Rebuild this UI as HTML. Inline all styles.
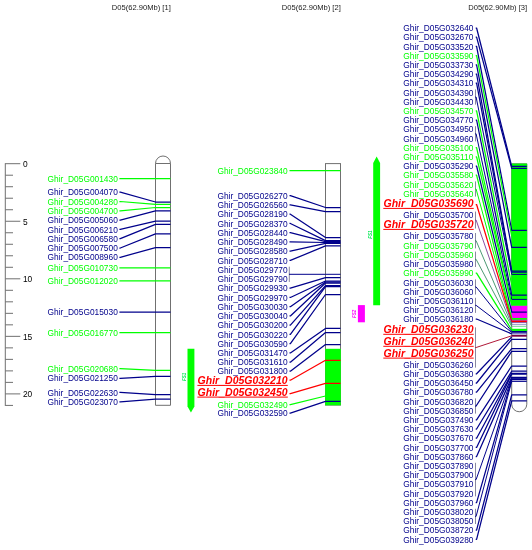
<!DOCTYPE html>
<html><head><meta charset="utf-8"><title>D05 map</title>
<style>
html,body{margin:0;padding:0;background:#fff}
svg{display:block}
text{font-family:"Liberation Sans",Arial,sans-serif}
.n{font-size:8.2px;text-anchor:end}
.r{font-size:10.0px;text-anchor:end;font-weight:bold;font-style:italic;fill:#ff0000}
.t{font-size:8px;fill:#1a1a1a}
.k{font-size:8.4px;fill:#000}
.q{font-size:4.5px;font-weight:bold;font-style:italic}
</style></head><body>
<svg width="532" height="550" viewBox="0 0 532 550">
<rect width="532" height="550" fill="#fff"/>
<text x="111.8" y="10.3" class="t" textLength="59" lengthAdjust="spacingAndGlyphs">D05(62.90Mb) [1]</text>
<text x="281.8" y="10.3" class="t" textLength="59" lengthAdjust="spacingAndGlyphs">D05(62.90Mb) [2]</text>
<text x="468.2" y="10.3" class="t" textLength="59" lengthAdjust="spacingAndGlyphs">D05(62.90Mb) [3]</text>
<line x1="5.3" y1="163.2" x2="5.3" y2="405.91" stroke="#707070" stroke-width="1"/>
<line x1="5.3" y1="163.70" x2="20.3" y2="163.70" stroke="#707070" stroke-width="1"/>
<text x="22.9" y="167.10" class="k">0</text>
<line x1="5.3" y1="175.21" x2="13" y2="175.21" stroke="#707070" stroke-width="1"/>
<line x1="5.3" y1="186.72" x2="13" y2="186.72" stroke="#707070" stroke-width="1"/>
<line x1="5.3" y1="198.23" x2="13" y2="198.23" stroke="#707070" stroke-width="1"/>
<line x1="5.3" y1="209.74" x2="13" y2="209.74" stroke="#707070" stroke-width="1"/>
<line x1="5.3" y1="221.25" x2="20.3" y2="221.25" stroke="#707070" stroke-width="1"/>
<text x="22.9" y="224.65" class="k">5</text>
<line x1="5.3" y1="232.76" x2="13" y2="232.76" stroke="#707070" stroke-width="1"/>
<line x1="5.3" y1="244.27" x2="13" y2="244.27" stroke="#707070" stroke-width="1"/>
<line x1="5.3" y1="255.78" x2="13" y2="255.78" stroke="#707070" stroke-width="1"/>
<line x1="5.3" y1="267.29" x2="13" y2="267.29" stroke="#707070" stroke-width="1"/>
<line x1="5.3" y1="278.80" x2="20.3" y2="278.80" stroke="#707070" stroke-width="1"/>
<text x="22.9" y="282.20" class="k">10</text>
<line x1="5.3" y1="290.31" x2="13" y2="290.31" stroke="#707070" stroke-width="1"/>
<line x1="5.3" y1="301.82" x2="13" y2="301.82" stroke="#707070" stroke-width="1"/>
<line x1="5.3" y1="313.33" x2="13" y2="313.33" stroke="#707070" stroke-width="1"/>
<line x1="5.3" y1="324.84" x2="13" y2="324.84" stroke="#707070" stroke-width="1"/>
<line x1="5.3" y1="336.35" x2="20.3" y2="336.35" stroke="#707070" stroke-width="1"/>
<text x="22.9" y="339.75" class="k">15</text>
<line x1="5.3" y1="347.86" x2="13" y2="347.86" stroke="#707070" stroke-width="1"/>
<line x1="5.3" y1="359.37" x2="13" y2="359.37" stroke="#707070" stroke-width="1"/>
<line x1="5.3" y1="370.88" x2="13" y2="370.88" stroke="#707070" stroke-width="1"/>
<line x1="5.3" y1="382.39" x2="13" y2="382.39" stroke="#707070" stroke-width="1"/>
<line x1="5.3" y1="393.90" x2="20.3" y2="393.90" stroke="#707070" stroke-width="1"/>
<text x="22.9" y="397.30" class="k">20</text>
<line x1="5.3" y1="405.41" x2="13" y2="405.41" stroke="#707070" stroke-width="1"/>
<path d="M155.5,405.3 V163.5 A7.5,7.5 0 0 1 170.5,163.5 V405.3 Z M155.5,163.5 H170.5" fill="none" stroke="#707070" stroke-width="1"/>
<text x="117.8" y="181.60" class="n" fill="#00ff00" textLength="70.2" lengthAdjust="spacingAndGlyphs">Ghir_D05G001430</text>
<polyline points="119.4,178.50 120.3,178.50 155.5,178.50 170.5,178.50" stroke="#00ff00" stroke-width="1.25" fill="none" stroke-linejoin="round"/>
<text x="117.8" y="195.30" class="n" fill="#00008b" textLength="70.2" lengthAdjust="spacingAndGlyphs">Ghir_D05G004070</text>
<polyline points="119.4,192.20 120.3,192.20 155.5,202.00 170.5,202.00" stroke="#00008b" stroke-width="1.25" fill="none" stroke-linejoin="round"/>
<text x="117.8" y="204.60" class="n" fill="#00ff00" textLength="70.2" lengthAdjust="spacingAndGlyphs">Ghir_D05G004280</text>
<polyline points="119.4,201.50 120.3,201.50 155.5,204.30 170.5,204.30" stroke="#00ff00" stroke-width="1.25" fill="none" stroke-linejoin="round"/>
<text x="117.8" y="213.90" class="n" fill="#00ff00" textLength="70.2" lengthAdjust="spacingAndGlyphs">Ghir_D05G004700</text>
<polyline points="119.4,210.80 120.3,210.80 155.5,207.50 170.5,207.50" stroke="#00ff00" stroke-width="1.25" fill="none" stroke-linejoin="round"/>
<text x="117.8" y="223.20" class="n" fill="#00008b" textLength="70.2" lengthAdjust="spacingAndGlyphs">Ghir_D05G005060</text>
<polyline points="119.4,220.10 120.3,220.10 155.5,210.80 170.5,210.80" stroke="#00008b" stroke-width="1.25" fill="none" stroke-linejoin="round"/>
<text x="117.8" y="232.50" class="n" fill="#00008b" textLength="70.2" lengthAdjust="spacingAndGlyphs">Ghir_D05G006210</text>
<polyline points="119.4,229.40 120.3,229.40 155.5,221.05 170.5,221.05" stroke="#00008b" stroke-width="1.25" fill="none" stroke-linejoin="round"/>
<text x="117.8" y="241.80" class="n" fill="#00008b" textLength="70.2" lengthAdjust="spacingAndGlyphs">Ghir_D05G006580</text>
<polyline points="119.4,238.70 120.3,238.70 155.5,224.30 170.5,224.30" stroke="#00008b" stroke-width="1.25" fill="none" stroke-linejoin="round"/>
<text x="117.8" y="251.10" class="n" fill="#00008b" textLength="70.2" lengthAdjust="spacingAndGlyphs">Ghir_D05G007500</text>
<polyline points="119.4,248.00 120.3,248.00 155.5,233.90 170.5,233.90" stroke="#00008b" stroke-width="1.25" fill="none" stroke-linejoin="round"/>
<text x="117.8" y="260.40" class="n" fill="#00008b" textLength="70.2" lengthAdjust="spacingAndGlyphs">Ghir_D05G008960</text>
<polyline points="119.4,257.30 120.3,257.30 155.5,247.60 170.5,247.60" stroke="#00008b" stroke-width="1.25" fill="none" stroke-linejoin="round"/>
<text x="117.8" y="270.90" class="n" fill="#00ff00" textLength="70.2" lengthAdjust="spacingAndGlyphs">Ghir_D05G010730</text>
<polyline points="119.4,267.80 120.3,267.80 155.5,267.80 170.5,267.80" stroke="#00ff00" stroke-width="1.25" fill="none" stroke-linejoin="round"/>
<text x="117.8" y="283.90" class="n" fill="#00ff00" textLength="70.2" lengthAdjust="spacingAndGlyphs">Ghir_D05G012020</text>
<polyline points="119.4,280.80 120.3,280.80 155.5,280.80 170.5,280.80" stroke="#00ff00" stroke-width="1.25" fill="none" stroke-linejoin="round"/>
<text x="117.8" y="315.20" class="n" fill="#00008b" textLength="70.2" lengthAdjust="spacingAndGlyphs">Ghir_D05G015030</text>
<polyline points="119.4,312.10 120.3,312.10 155.5,312.10 170.5,312.10" stroke="#00008b" stroke-width="1.25" fill="none" stroke-linejoin="round"/>
<text x="117.8" y="335.60" class="n" fill="#00ff00" textLength="70.2" lengthAdjust="spacingAndGlyphs">Ghir_D05G016770</text>
<polyline points="119.4,332.50 120.3,332.50 155.5,332.50 170.5,332.50" stroke="#00ff00" stroke-width="1.25" fill="none" stroke-linejoin="round"/>
<text x="117.8" y="371.80" class="n" fill="#00ff00" textLength="70.2" lengthAdjust="spacingAndGlyphs">Ghir_D05G020680</text>
<polyline points="119.4,368.70 120.3,368.70 155.5,370.40 170.5,370.40" stroke="#00ff00" stroke-width="1.25" fill="none" stroke-linejoin="round"/>
<text x="117.8" y="381.40" class="n" fill="#00008b" textLength="70.2" lengthAdjust="spacingAndGlyphs">Ghir_D05G021250</text>
<polyline points="119.4,378.30 120.3,378.30 155.5,376.30 170.5,376.30" stroke="#00008b" stroke-width="1.25" fill="none" stroke-linejoin="round"/>
<text x="117.8" y="395.50" class="n" fill="#00008b" textLength="70.2" lengthAdjust="spacingAndGlyphs">Ghir_D05G022630</text>
<polyline points="119.4,392.40 120.3,392.40 155.5,394.70 170.5,394.70" stroke="#00008b" stroke-width="1.25" fill="none" stroke-linejoin="round"/>
<text x="117.8" y="404.90" class="n" fill="#00008b" textLength="70.2" lengthAdjust="spacingAndGlyphs">Ghir_D05G023070</text>
<polyline points="119.4,401.80 120.3,401.80 155.5,399.20 170.5,399.20" stroke="#00008b" stroke-width="1.25" fill="none" stroke-linejoin="round"/>
<path d="M187.5,348.7 H194.4 V406.5 L190.95,412.4 L187.5,406.5 Z" fill="#00ff00"/>
<text transform="translate(185.9,380.9) rotate(-90)" class="q" fill="#00e850">FS1</text>
<rect x="325.5" y="163.6" width="15" height="241.5" fill="none" stroke="#707070" stroke-width="1"/>
<rect x="325.2" y="348.8" width="15.6" height="56.5" fill="#00ff00"/>
<text x="287.6" y="173.80" class="n" fill="#00ff00" textLength="70.2" lengthAdjust="spacingAndGlyphs">Ghir_D05G023840</text>
<polyline points="289.5,170.70 290.4,170.70 325.5,170.70 340.5,170.70" stroke="#00ff00" stroke-width="1.25" fill="none" stroke-linejoin="round"/>
<text x="287.6" y="198.80" class="n" fill="#00008b" textLength="70.2" lengthAdjust="spacingAndGlyphs">Ghir_D05G026270</text>
<polyline points="289.5,195.70 290.4,195.70 325.5,207.50 340.5,207.50" stroke="#00008b" stroke-width="1.25" fill="none" stroke-linejoin="round"/>
<text x="287.6" y="208.05" class="n" fill="#00008b" textLength="70.2" lengthAdjust="spacingAndGlyphs">Ghir_D05G026560</text>
<polyline points="289.5,204.95 290.4,204.95 325.5,211.70 340.5,211.70" stroke="#00008b" stroke-width="1.25" fill="none" stroke-linejoin="round"/>
<text x="287.6" y="217.30" class="n" fill="#00008b" textLength="70.2" lengthAdjust="spacingAndGlyphs">Ghir_D05G028190</text>
<polyline points="289.5,214.20 290.4,214.20 325.5,237.50 340.5,237.50" stroke="#00008b" stroke-width="1.25" fill="none" stroke-linejoin="round"/>
<text x="287.6" y="226.55" class="n" fill="#00008b" textLength="70.2" lengthAdjust="spacingAndGlyphs">Ghir_D05G028370</text>
<polyline points="289.5,223.45 290.4,223.45 325.5,240.60 340.5,240.60" stroke="#00008b" stroke-width="1.25" fill="none" stroke-linejoin="round"/>
<text x="287.6" y="235.80" class="n" fill="#00008b" textLength="70.2" lengthAdjust="spacingAndGlyphs">Ghir_D05G028440</text>
<polyline points="289.5,232.70 290.4,232.70 325.5,241.60 340.5,241.60" stroke="#00008b" stroke-width="1.25" fill="none" stroke-linejoin="round"/>
<text x="287.6" y="245.05" class="n" fill="#00008b" textLength="70.2" lengthAdjust="spacingAndGlyphs">Ghir_D05G028490</text>
<polyline points="289.5,241.95 290.4,241.95 325.5,242.50 340.5,242.50" stroke="#00008b" stroke-width="1.25" fill="none" stroke-linejoin="round"/>
<text x="287.6" y="254.30" class="n" fill="#00008b" textLength="70.2" lengthAdjust="spacingAndGlyphs">Ghir_D05G028580</text>
<polyline points="289.5,251.20 290.4,251.20 325.5,243.40 340.5,243.40" stroke="#00008b" stroke-width="1.25" fill="none" stroke-linejoin="round"/>
<text x="287.6" y="263.55" class="n" fill="#00008b" textLength="70.2" lengthAdjust="spacingAndGlyphs">Ghir_D05G028710</text>
<polyline points="289.5,260.45 290.4,260.45 325.5,245.90 340.5,245.90" stroke="#00008b" stroke-width="1.25" fill="none" stroke-linejoin="round"/>
<text x="287.6" y="272.80" class="n" fill="#00008b" textLength="70.2" lengthAdjust="spacingAndGlyphs">Ghir_D05G029770</text>
<text x="287.6" y="282.05" class="n" fill="#00008b" textLength="70.2" lengthAdjust="spacingAndGlyphs">Ghir_D05G029790</text>
<line x1="289.3" y1="266.70" x2="289.3" y2="281.95" stroke="#555577" stroke-width="0.7"/>
<polyline points="289.0,274.30 289.9,274.30 325.5,274.30 340.5,274.30" stroke="#00008b" stroke-width="1.0" fill="none" stroke-linejoin="round"/>
<text x="287.6" y="291.30" class="n" fill="#00008b" textLength="70.2" lengthAdjust="spacingAndGlyphs">Ghir_D05G029930</text>
<polyline points="289.5,288.20 290.4,288.20 325.5,277.60 340.5,277.60" stroke="#00008b" stroke-width="1.25" fill="none" stroke-linejoin="round"/>
<text x="287.6" y="300.55" class="n" fill="#00008b" textLength="70.2" lengthAdjust="spacingAndGlyphs">Ghir_D05G029970</text>
<polyline points="289.5,297.45 290.4,297.45 325.5,281.00 340.5,281.00" stroke="#00008b" stroke-width="1.25" fill="none" stroke-linejoin="round"/>
<text x="287.6" y="309.80" class="n" fill="#00008b" textLength="70.2" lengthAdjust="spacingAndGlyphs">Ghir_D05G030030</text>
<polyline points="289.5,306.70 290.4,306.70 325.5,282.00 340.5,282.00" stroke="#00008b" stroke-width="1.25" fill="none" stroke-linejoin="round"/>
<text x="287.6" y="319.05" class="n" fill="#00008b" textLength="70.2" lengthAdjust="spacingAndGlyphs">Ghir_D05G030040</text>
<polyline points="289.5,315.95 290.4,315.95 325.5,283.00 340.5,283.00" stroke="#00008b" stroke-width="1.25" fill="none" stroke-linejoin="round"/>
<text x="287.6" y="328.30" class="n" fill="#00008b" textLength="70.2" lengthAdjust="spacingAndGlyphs">Ghir_D05G030200</text>
<polyline points="289.5,325.20 290.4,325.20 325.5,285.70 340.5,285.70" stroke="#00008b" stroke-width="1.25" fill="none" stroke-linejoin="round"/>
<text x="287.6" y="337.55" class="n" fill="#00008b" textLength="70.2" lengthAdjust="spacingAndGlyphs">Ghir_D05G030220</text>
<polyline points="289.5,334.45 290.4,334.45 325.5,286.60 340.5,286.60" stroke="#00008b" stroke-width="1.25" fill="none" stroke-linejoin="round"/>
<text x="287.6" y="346.80" class="n" fill="#00008b" textLength="70.2" lengthAdjust="spacingAndGlyphs">Ghir_D05G030590</text>
<polyline points="289.5,343.70 290.4,343.70 325.5,294.50 340.5,294.50" stroke="#00008b" stroke-width="1.25" fill="none" stroke-linejoin="round"/>
<text x="287.6" y="356.05" class="n" fill="#00008b" textLength="70.2" lengthAdjust="spacingAndGlyphs">Ghir_D05G031470</text>
<polyline points="289.5,352.95 290.4,352.95 325.5,328.40 340.5,328.40" stroke="#00008b" stroke-width="1.25" fill="none" stroke-linejoin="round"/>
<text x="287.6" y="365.30" class="n" fill="#00008b" textLength="70.2" lengthAdjust="spacingAndGlyphs">Ghir_D05G031610</text>
<polyline points="289.5,362.20 290.4,362.20 325.5,332.60 340.5,332.60" stroke="#00008b" stroke-width="1.25" fill="none" stroke-linejoin="round"/>
<text x="287.6" y="374.30" class="n" fill="#00008b" textLength="70.2" lengthAdjust="spacingAndGlyphs">Ghir_D05G031800</text>
<polyline points="289.5,371.20 290.4,371.20 325.5,344.50 340.5,344.50" stroke="#00008b" stroke-width="1.25" fill="none" stroke-linejoin="round"/>
<text x="287.6" y="384.30" class="r" textLength="90" lengthAdjust="spacingAndGlyphs">Ghir_D05G032210</text>
<line x1="197.4" y1="385.40" x2="287.8" y2="385.40" stroke="#ff0000" stroke-width="1"/>
<polyline points="289.5,380.20 290.4,380.20 325.5,360.30 340.5,360.30" stroke="#ff0000" stroke-width="1.25" fill="none" stroke-linejoin="round"/>
<text x="287.6" y="396.00" class="r" textLength="90" lengthAdjust="spacingAndGlyphs">Ghir_D05G032450</text>
<line x1="197.4" y1="397.10" x2="287.8" y2="397.10" stroke="#ff0000" stroke-width="1"/>
<polyline points="289.5,393.70 290.4,393.70 325.5,383.30 340.5,383.30" stroke="#ff0000" stroke-width="1.25" fill="none" stroke-linejoin="round"/>
<text x="287.6" y="407.80" class="n" fill="#00ff00" textLength="70.2" lengthAdjust="spacingAndGlyphs">Ghir_D05G032490</text>
<polyline points="289.5,404.70 290.4,404.70 325.5,396.00 340.5,396.00" stroke="#00ff00" stroke-width="1.25" fill="none" stroke-linejoin="round"/>
<text x="287.6" y="416.30" class="n" fill="#00008b" textLength="70.2" lengthAdjust="spacingAndGlyphs">Ghir_D05G032590</text>
<polyline points="289.5,413.20 290.4,413.20 325.5,401.40 340.5,401.40" stroke="#00008b" stroke-width="1.25" fill="none" stroke-linejoin="round"/>
<path d="M373.2,305.3 V163 L376.65,156.4 L380.1,163 V305.3 Z" fill="#00ff00"/>
<text transform="translate(371.7,238.8) rotate(-90)" class="q" fill="#00e850">FS1</text>
<rect x="357.9" y="305.1" width="7" height="17.2" fill="#ff00ff"/>
<text transform="translate(355.9,317.9) rotate(-90)" class="q" fill="#ff00ff">FS2</text>
<path d="M511.7,163.8 H526.8 V404.2 A7.549999999999983,7.549999999999983 0 0 1 511.7,404.2 Z" fill="none" stroke="#707070" stroke-width="1"/>
<rect x="511.4" y="163.6" width="15.699999999999966" height="141.7" fill="#00ff00"/>
<rect x="511.4" y="305.3" width="15.699999999999966" height="16.5" fill="#ff00ff"/>
<rect x="511.4" y="328.8" width="15.699999999999966" height="2.1" fill="#00ff00"/>
<text x="473.5" y="31.10" class="n" fill="#00008b" textLength="70.2" lengthAdjust="spacingAndGlyphs">Ghir_D05G032640</text>
<text x="473.5" y="40.30" class="n" fill="#00008b" textLength="70.2" lengthAdjust="spacingAndGlyphs">Ghir_D05G032670</text>
<text x="473.5" y="49.50" class="n" fill="#00008b" textLength="70.2" lengthAdjust="spacingAndGlyphs">Ghir_D05G033520</text>
<text x="473.5" y="58.70" class="n" fill="#00ff00" textLength="70.2" lengthAdjust="spacingAndGlyphs">Ghir_D05G033590</text>
<text x="473.5" y="67.90" class="n" fill="#00008b" textLength="70.2" lengthAdjust="spacingAndGlyphs">Ghir_D05G033730</text>
<text x="473.5" y="77.10" class="n" fill="#00008b" textLength="70.2" lengthAdjust="spacingAndGlyphs">Ghir_D05G034290</text>
<text x="473.5" y="86.30" class="n" fill="#00008b" textLength="70.2" lengthAdjust="spacingAndGlyphs">Ghir_D05G034310</text>
<text x="473.5" y="95.50" class="n" fill="#00008b" textLength="70.2" lengthAdjust="spacingAndGlyphs">Ghir_D05G034390</text>
<text x="473.5" y="104.70" class="n" fill="#00008b" textLength="70.2" lengthAdjust="spacingAndGlyphs">Ghir_D05G034430</text>
<text x="473.5" y="113.90" class="n" fill="#00ff00" textLength="70.2" lengthAdjust="spacingAndGlyphs">Ghir_D05G034570</text>
<text x="473.5" y="123.10" class="n" fill="#00008b" textLength="70.2" lengthAdjust="spacingAndGlyphs">Ghir_D05G034770</text>
<text x="473.5" y="132.30" class="n" fill="#00008b" textLength="70.2" lengthAdjust="spacingAndGlyphs">Ghir_D05G034950</text>
<text x="473.5" y="141.50" class="n" fill="#00008b" textLength="70.2" lengthAdjust="spacingAndGlyphs">Ghir_D05G034960</text>
<text x="473.5" y="150.70" class="n" fill="#00ff00" textLength="70.2" lengthAdjust="spacingAndGlyphs">Ghir_D05G035100</text>
<text x="473.5" y="159.90" class="n" fill="#00ff00" textLength="70.2" lengthAdjust="spacingAndGlyphs">Ghir_D05G035110</text>
<text x="473.5" y="169.10" class="n" fill="#00008b" textLength="70.2" lengthAdjust="spacingAndGlyphs">Ghir_D05G035290</text>
<text x="473.5" y="178.30" class="n" fill="#00ff00" textLength="70.2" lengthAdjust="spacingAndGlyphs">Ghir_D05G035580</text>
<text x="473.5" y="187.50" class="n" fill="#00ff00" textLength="70.2" lengthAdjust="spacingAndGlyphs">Ghir_D05G035620</text>
<text x="473.5" y="196.70" class="n" fill="#00ff00" textLength="70.2" lengthAdjust="spacingAndGlyphs">Ghir_D05G035640</text>
<text x="473.5" y="207.30" class="r" textLength="90" lengthAdjust="spacingAndGlyphs">Ghir_D05G035690</text>
<line x1="383.3" y1="208.40" x2="473.7" y2="208.40" stroke="#ff0000" stroke-width="1"/>
<text x="473.5" y="217.70" class="n" fill="#00008b" textLength="70.2" lengthAdjust="spacingAndGlyphs">Ghir_D05G035700</text>
<text x="473.5" y="228.30" class="r" textLength="90" lengthAdjust="spacingAndGlyphs">Ghir_D05G035720</text>
<line x1="383.3" y1="229.40" x2="473.7" y2="229.40" stroke="#ff0000" stroke-width="1"/>
<text x="473.5" y="239.10" class="n" fill="#00008b" textLength="70.2" lengthAdjust="spacingAndGlyphs">Ghir_D05G035780</text>
<text x="473.5" y="248.50" class="n" fill="#00ff00" textLength="70.2" lengthAdjust="spacingAndGlyphs">Ghir_D05G035790</text>
<text x="473.5" y="257.70" class="n" fill="#00ff00" textLength="70.2" lengthAdjust="spacingAndGlyphs">Ghir_D05G035960</text>
<text x="473.5" y="267.10" class="n" fill="#00008b" textLength="70.2" lengthAdjust="spacingAndGlyphs">Ghir_D05G035980</text>
<text x="473.5" y="276.30" class="n" fill="#00ff00" textLength="70.2" lengthAdjust="spacingAndGlyphs">Ghir_D05G035990</text>
<text x="473.5" y="285.50" class="n" fill="#00008b" textLength="70.2" lengthAdjust="spacingAndGlyphs">Ghir_D05G036030</text>
<text x="473.5" y="294.60" class="n" fill="#00008b" textLength="70.2" lengthAdjust="spacingAndGlyphs">Ghir_D05G036060</text>
<text x="473.5" y="303.90" class="n" fill="#00008b" textLength="70.2" lengthAdjust="spacingAndGlyphs">Ghir_D05G036110</text>
<text x="473.5" y="313.00" class="n" fill="#00008b" textLength="70.2" lengthAdjust="spacingAndGlyphs">Ghir_D05G036120</text>
<text x="473.5" y="322.10" class="n" fill="#00008b" textLength="70.2" lengthAdjust="spacingAndGlyphs">Ghir_D05G036180</text>
<text x="473.5" y="333.20" class="r" textLength="90" lengthAdjust="spacingAndGlyphs">Ghir_D05G036230</text>
<line x1="383.3" y1="334.30" x2="473.7" y2="334.30" stroke="#ff0000" stroke-width="1"/>
<text x="473.5" y="345.20" class="r" textLength="90" lengthAdjust="spacingAndGlyphs">Ghir_D05G036240</text>
<line x1="383.3" y1="346.30" x2="473.7" y2="346.30" stroke="#ff0000" stroke-width="1"/>
<text x="473.5" y="357.00" class="r" textLength="90" lengthAdjust="spacingAndGlyphs">Ghir_D05G036250</text>
<line x1="383.3" y1="358.10" x2="473.7" y2="358.10" stroke="#ff0000" stroke-width="1"/>
<text x="473.5" y="367.70" class="n" fill="#00008b" textLength="70.2" lengthAdjust="spacingAndGlyphs">Ghir_D05G036260</text>
<text x="473.5" y="376.90" class="n" fill="#00008b" textLength="70.2" lengthAdjust="spacingAndGlyphs">Ghir_D05G036380</text>
<text x="473.5" y="386.10" class="n" fill="#00008b" textLength="70.2" lengthAdjust="spacingAndGlyphs">Ghir_D05G036450</text>
<text x="473.5" y="395.30" class="n" fill="#00008b" textLength="70.2" lengthAdjust="spacingAndGlyphs">Ghir_D05G036780</text>
<text x="473.5" y="404.50" class="n" fill="#00008b" textLength="70.2" lengthAdjust="spacingAndGlyphs">Ghir_D05G036820</text>
<text x="473.5" y="413.70" class="n" fill="#00008b" textLength="70.2" lengthAdjust="spacingAndGlyphs">Ghir_D05G036850</text>
<text x="473.5" y="422.90" class="n" fill="#00008b" textLength="70.2" lengthAdjust="spacingAndGlyphs">Ghir_D05G037490</text>
<text x="473.5" y="432.10" class="n" fill="#00008b" textLength="70.2" lengthAdjust="spacingAndGlyphs">Ghir_D05G037630</text>
<text x="473.5" y="441.30" class="n" fill="#00008b" textLength="70.2" lengthAdjust="spacingAndGlyphs">Ghir_D05G037670</text>
<text x="473.5" y="450.50" class="n" fill="#00008b" textLength="70.2" lengthAdjust="spacingAndGlyphs">Ghir_D05G037700</text>
<text x="473.5" y="459.70" class="n" fill="#00008b" textLength="70.2" lengthAdjust="spacingAndGlyphs">Ghir_D05G037860</text>
<text x="473.5" y="468.90" class="n" fill="#00008b" textLength="70.2" lengthAdjust="spacingAndGlyphs">Ghir_D05G037890</text>
<text x="473.5" y="478.10" class="n" fill="#00008b" textLength="70.2" lengthAdjust="spacingAndGlyphs">Ghir_D05G037900</text>
<text x="473.5" y="487.30" class="n" fill="#00008b" textLength="70.2" lengthAdjust="spacingAndGlyphs">Ghir_D05G037910</text>
<text x="473.5" y="496.50" class="n" fill="#00008b" textLength="70.2" lengthAdjust="spacingAndGlyphs">Ghir_D05G037920</text>
<text x="473.5" y="505.70" class="n" fill="#00008b" textLength="70.2" lengthAdjust="spacingAndGlyphs">Ghir_D05G037960</text>
<text x="473.5" y="514.90" class="n" fill="#00008b" textLength="70.2" lengthAdjust="spacingAndGlyphs">Ghir_D05G038020</text>
<text x="473.5" y="524.10" class="n" fill="#00008b" textLength="70.2" lengthAdjust="spacingAndGlyphs">Ghir_D05G038050</text>
<text x="473.5" y="533.30" class="n" fill="#00008b" textLength="70.2" lengthAdjust="spacingAndGlyphs">Ghir_D05G038720</text>
<text x="473.5" y="542.50" class="n" fill="#00008b" textLength="70.2" lengthAdjust="spacingAndGlyphs">Ghir_D05G039280</text>
<polyline points="475.7,28.00 476.6,28.00 511.7,166.30 526.8,166.30" stroke="#00008b" stroke-width="1.25" fill="none" stroke-linejoin="round"/>
<polyline points="475.7,37.20 476.6,37.20 511.7,168.40 526.8,168.40" stroke="#00008b" stroke-width="1.25" fill="none" stroke-linejoin="round"/>
<polyline points="475.7,46.40 476.6,46.40 511.7,230.30 526.8,230.30" stroke="#00008b" stroke-width="1.25" fill="none" stroke-linejoin="round"/>
<polyline points="475.7,55.60 476.6,55.60 511.7,236.00 526.8,236.00" stroke="#00ff00" stroke-width="1.25" fill="none" stroke-linejoin="round"/>
<polyline points="475.7,64.80 476.6,64.80 511.7,247.40 526.8,247.40" stroke="#00008b" stroke-width="1.25" fill="none" stroke-linejoin="round"/>
<polyline points="475.7,74.00 476.6,74.00 511.7,271.00 526.8,271.00" stroke="#00008b" stroke-width="1.25" fill="none" stroke-linejoin="round"/>
<polyline points="475.7,83.20 476.6,83.20 511.7,272.00 526.8,272.00" stroke="#00008b" stroke-width="1.25" fill="none" stroke-linejoin="round"/>
<line x1="475.5" y1="89.40" x2="475.5" y2="104.60" stroke="#555577" stroke-width="0.7"/>
<polyline points="475.2,97.00 476.1,97.00 511.7,274.40 526.8,274.40" stroke="#00008b" stroke-width="1.0" fill="none" stroke-linejoin="round"/>
<polyline points="475.7,110.80 476.6,110.80 511.7,285.00 526.8,285.00" stroke="#00ff00" stroke-width="1.25" fill="none" stroke-linejoin="round"/>
<polyline points="475.7,120.00 476.6,120.00 511.7,295.00 526.8,295.00" stroke="#00008b" stroke-width="1.25" fill="none" stroke-linejoin="round"/>
<line x1="475.5" y1="126.20" x2="475.5" y2="141.40" stroke="#555577" stroke-width="0.7"/>
<polyline points="475.2,133.80 476.1,133.80 511.7,299.40 526.8,299.40" stroke="#00008b" stroke-width="1.0" fill="none" stroke-linejoin="round"/>
<polyline points="475.7,147.60 476.6,147.60 511.7,304.00 526.8,304.00" stroke="#00ff00" stroke-width="1.25" fill="none" stroke-linejoin="round"/>
<polyline points="475.7,156.80 476.6,156.80 511.7,305.00 526.8,305.00" stroke="#00ff00" stroke-width="1.25" fill="none" stroke-linejoin="round"/>
<polyline points="475.7,166.00 476.6,166.00 511.7,312.00 526.8,312.00" stroke="#00008b" stroke-width="1.25" fill="none" stroke-linejoin="round"/>
<polyline points="475.7,175.20 476.6,175.20 511.7,318.60 526.8,318.60" stroke="#00ff00" stroke-width="1.25" fill="none" stroke-linejoin="round"/>
<line x1="475.5" y1="181.40" x2="475.5" y2="196.60" stroke="#555577" stroke-width="0.7"/>
<polyline points="475.2,189.00 476.1,189.00 511.7,319.80 526.8,319.80" stroke="#00ff00" stroke-width="1.0" fill="none" stroke-linejoin="round"/>
<polyline points="475.7,204.50 476.6,204.50 511.7,321.40 526.8,321.40" stroke="#ff0000" stroke-width="1.25" fill="none" stroke-linejoin="round"/>
<line x1="475.5" y1="211.60" x2="475.5" y2="228.50" stroke="#555577" stroke-width="0.7"/>
<polyline points="475.2,220.05 476.1,220.05 511.7,322.60 526.8,322.60" stroke="#70208a" stroke-width="0.8" fill="none" stroke-linejoin="round"/>
<line x1="475.5" y1="233.00" x2="475.5" y2="248.40" stroke="#555577" stroke-width="0.7"/>
<polyline points="475.2,240.70 476.1,240.70 511.7,324.60" stroke="#208050" stroke-width="0.8" fill="none" stroke-linejoin="round"/>
<line x1="511.7" y1="324.60" x2="526.8" y2="324.60" stroke="#8080c0" stroke-width="0.8"/>
<line x1="475.5" y1="251.60" x2="475.5" y2="267.00" stroke="#555577" stroke-width="0.7"/>
<polyline points="475.2,259.30 476.1,259.30 511.7,326.40" stroke="#208050" stroke-width="0.8" fill="none" stroke-linejoin="round"/>
<line x1="511.7" y1="326.40" x2="526.8" y2="326.40" stroke="#60d080" stroke-width="0.8"/>
<polyline points="475.7,273.20 476.6,273.20 511.7,329.80 526.8,329.80" stroke="#00ff00" stroke-width="1.25" fill="none" stroke-linejoin="round"/>
<line x1="475.5" y1="279.40" x2="475.5" y2="294.50" stroke="#555577" stroke-width="0.7"/>
<polyline points="475.2,286.95 476.1,286.95 511.7,331.50 526.8,331.50" stroke="#00008b" stroke-width="1.0" fill="none" stroke-linejoin="round"/>
<line x1="475.5" y1="297.80" x2="475.5" y2="312.90" stroke="#555577" stroke-width="0.7"/>
<polyline points="475.2,305.35 476.1,305.35 511.7,332.30 526.8,332.30" stroke="#00008b" stroke-width="1.0" fill="none" stroke-linejoin="round"/>
<polyline points="475.7,319.00 476.6,319.00 511.7,333.80" stroke="#00008b" stroke-width="1.25" fill="none" stroke-linejoin="round"/>
<line x1="511.7" y1="333.80" x2="526.8" y2="333.80" stroke="#00008b" stroke-width="0.7"/>
<line x1="475.5" y1="327.40" x2="475.5" y2="367.60" stroke="#555577" stroke-width="0.7"/>
<polyline points="475.2,347.50 476.1,347.50 511.7,335.80" stroke="#b01838" stroke-width="1.0" fill="none" stroke-linejoin="round"/>
<line x1="511.7" y1="335.80" x2="526.8" y2="335.80" stroke="#780048" stroke-width="1.8"/>
<polyline points="475.7,373.80 476.6,373.80 511.7,336.90" stroke="#00008b" stroke-width="1.25" fill="none" stroke-linejoin="round"/>
<line x1="511.7" y1="336.90" x2="526.8" y2="336.90" stroke="#00008b" stroke-width="0.01"/>
<polyline points="475.7,383.00 476.6,383.00 511.7,339.40 526.8,339.40" stroke="#00008b" stroke-width="1.25" fill="none" stroke-linejoin="round"/>
<polyline points="475.7,392.20 476.6,392.20 511.7,348.60 526.8,348.60" stroke="#00008b" stroke-width="1.25" fill="none" stroke-linejoin="round"/>
<line x1="475.5" y1="398.40" x2="475.5" y2="413.60" stroke="#555577" stroke-width="0.7"/>
<polyline points="475.2,406.00 476.1,406.00 511.7,351.40 526.8,351.40" stroke="#00008b" stroke-width="1.25" fill="none" stroke-linejoin="round"/>
<polyline points="475.7,419.80 476.6,419.80 511.7,366.00 526.8,366.00" stroke="#00008b" stroke-width="1.25" fill="none" stroke-linejoin="round"/>
<polyline points="475.7,429.00 476.6,429.00 511.7,371.20 526.8,371.20" stroke="#00008b" stroke-width="1.25" fill="none" stroke-linejoin="round"/>
<polyline points="475.7,438.20 476.6,438.20 511.7,373.30 526.8,373.30" stroke="#00008b" stroke-width="1.25" fill="none" stroke-linejoin="round"/>
<polyline points="475.7,447.40 476.6,447.40 511.7,374.20 526.8,374.20" stroke="#00008b" stroke-width="1.25" fill="none" stroke-linejoin="round"/>
<polyline points="475.7,456.60 476.6,456.60 511.7,377.30 526.8,377.30" stroke="#00008b" stroke-width="1.25" fill="none" stroke-linejoin="round"/>
<line x1="475.5" y1="462.80" x2="475.5" y2="496.40" stroke="#555577" stroke-width="0.7"/>
<polyline points="475.2,479.60 476.1,479.60 511.7,378.40 526.8,378.40" stroke="#00008b" stroke-width="1.0" fill="none" stroke-linejoin="round"/>
<polyline points="475.7,502.60 476.6,502.60 511.7,379.50 526.8,379.50" stroke="#00008b" stroke-width="1.25" fill="none" stroke-linejoin="round"/>
<line x1="475.5" y1="508.80" x2="475.5" y2="524.00" stroke="#555577" stroke-width="0.7"/>
<polyline points="475.2,516.40 476.1,516.40 511.7,381.40 526.8,381.40" stroke="#00008b" stroke-width="1.0" fill="none" stroke-linejoin="round"/>
<polyline points="475.7,530.20 476.6,530.20 511.7,394.90 526.8,394.90" stroke="#00008b" stroke-width="1.25" fill="none" stroke-linejoin="round"/>
<polyline points="475.7,539.40 476.6,539.40 511.7,400.90 526.8,400.90" stroke="#00008b" stroke-width="1.25" fill="none" stroke-linejoin="round"/>
</svg>
</body></html>
